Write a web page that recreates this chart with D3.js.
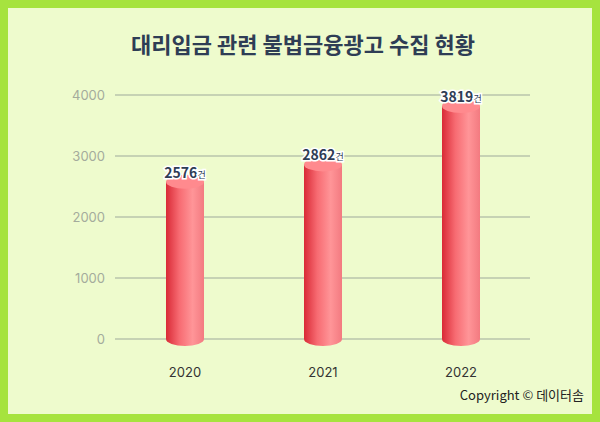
<!DOCTYPE html>
<html><head><meta charset="utf-8">
<script src="https://cdn.jsdelivr.net/npm/d3@7"></script>
<style>body{margin:0}svg{display:block}</style>
</head><body><svg id="chart" width="600" height="422"></svg>
<script>
const years = ["2020", "2021", "2022"];
const counts = [2576, 2862, 3819];
const yTicks = [0, 1000, 2000, 3000, 4000];

const svg = d3.select("#chart");
const W = 600, H = 422;
svg.append("rect").attr("width", W).attr("height", H).attr("fill", "#a6e33e");
svg.append("rect").attr("x", 8).attr("y", 8).attr("width", W - 16).attr("height", H - 16).attr("fill", "#eefbcd");

svg.append("text").attr("x", 303).attr("y", 53).attr("text-anchor", "middle")
  .attr("font-family", "Noto Sans CJK KR").attr("font-weight", "bold").attr("font-size", 22)
  .attr("fill", "#2e3d55").text("대리입금 관련 불법금융광고 수집 현황");

// bar centres
const x = d3.scalePoint().domain(years).range([185, 461]);
const bw = 38;
const y = d3.scaleLinear().domain([0, 4000]).range([339, 95]);

const defs = svg.append("defs");
const g1 = defs.append("linearGradient").attr("id", "body");
[["0%", "#d92a36"], ["35%", "#f76b72"], ["70%", "#ff9598"], ["100%", "#f37a80"]]
  .forEach(([o, c]) => g1.append("stop").attr("offset", o).attr("stop-color", c));

svg.append("g").selectAll("line").data(yTicks).join("line")
  .attr("x1", 115).attr("x2", 530).attr("y1", d => y(d)).attr("y2", d => y(d))
  .attr("stroke", "#b9c4ab").attr("stroke-width", 1.5);
svg.append("g").selectAll("text").data(yTicks).join("text")
  .attr("x", 105).attr("y", d => y(d) + 5).attr("text-anchor", "end")
  .attr("font-family", "Inter").attr("font-size", 13).attr("fill", "#a4ab9c").text(d => d);

svg.append("g").selectAll("text").data(years).join("text")
  .attr("x", d => x(d)).attr("y", 377).attr("text-anchor", "middle")
  .attr("font-family", "Inter").attr("font-size", 13).attr("fill", "#333").text(d => d);

const ry = 7;
const bars = svg.append("g").selectAll("g").data(years.map((d, i) => ({ year: d, v: counts[i] }))).join("g");
bars.append("path").attr("fill", "url(#body)").attr("d", d => {
  const x0 = x(d.year) - bw / 2, t = y(d.v), b = y(0);
  return `M${x0},${t} L${x0},${b} A${bw / 2},${ry} 0 0 0 ${x0 + bw},${b} L${x0 + bw},${t} Z`;
});
bars.append("ellipse").attr("cx", d => x(d.year)).attr("cy", d => y(d.v))
  .attr("rx", bw / 2).attr("ry", ry).attr("fill", "#ff8a8e");

const lab = bars.append("text").attr("x", d => x(d.year)).attr("y", d => y(d.v) - 4)
  .attr("text-anchor", "middle").attr("font-family", "Noto Sans CJK KR")
  .attr("stroke", "#fff").attr("stroke-width", 3).attr("paint-order", "stroke").attr("fill", "#2e3d55");
lab.append("tspan").attr("font-weight", "bold").attr("font-size", 14).text(d => d.v);
lab.append("tspan").attr("font-size", 9).text("건");

svg.append("text").attr("x", 584).attr("y", 400).attr("text-anchor", "end")
  .attr("font-family", "Noto Sans CJK KR").attr("font-size", 13).attr("fill", "#222").text("Copyright © 데이터솜");
</script></body></html>
